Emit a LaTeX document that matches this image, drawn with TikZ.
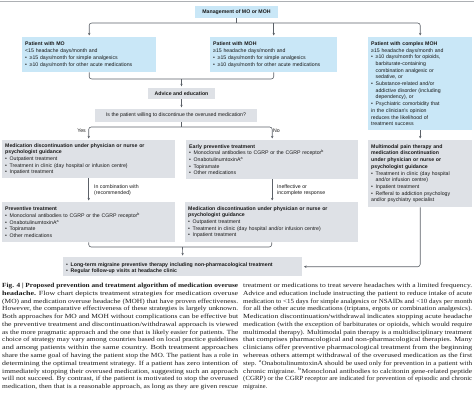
\documentclass[tikz,border=0pt]{standalone}
\usepackage{fontspec}
\usepackage{graphicx}
\setmainfont{Liberation Serif}
\setsansfont{Liberation Sans}
\usetikzlibrary{arrows.meta}
\definecolor{boxblue}{HTML}{C9E7F7}
\definecolor{boxgrey}{HTML}{DEE1E6}
\definecolor{linegrey}{HTML}{5C6168}
\newcommand{\bulitem}{\par\hangindent=4.5pt\hangafter=1\noindent\hbox to 4.5pt{•\hfil}}
\newcommand{\capl}[3]{\node[captxt] (#1) at (2,#2) {\resizebox{236pt}{\height}{#3}};}
\newcommand{\capr}[3]{\node[captxt] (#1) at (243,#2) {\resizebox{229pt}{\height}{#3}};}
\tikzset{
  base/.style={font=\sffamily\fontsize{5.2}{6.7}\selectfont, inner xsep=3pt, inner ysep=2pt, align=left, anchor=north west, text=black!90},
  bbox/.style={base, fill=boxblue},
  gbox/.style={base, fill=boxgrey},
  conn/.style={draw=linegrey, line width=0.6pt, rounded corners=2.5pt},
  arr/.style={conn, -{Stealth[length=2.6pt,width=2.4pt]}, shorten >=1.5pt},
  lbl/.style={font=\sffamily\fontsize{5.2}{6.7}\selectfont, align=left, inner sep=0pt, text=black!90},
  captxt/.style={font=\fontsize{6.3}{8}\selectfont, anchor=base west, inner sep=0pt, text=black!90},
}
\begin{document}
\begin{tikzpicture}[x=1pt,y=-1pt]
\useasboundingbox (0,0) rectangle (474,413);
\draw[linegrey!50, line width=0.6pt] (0,1) -- (474,1);

% top
\node[bbox, anchor=center, align=center, minimum width=83pt, minimum height=12pt, font=\sffamily\bfseries\fontsize{5.2}{6.7}\selectfont] (mgmt) at (236.5,12) {Management of MO or MOH};

\node[bbox, text width=128pt, minimum height=35pt] (mo) at (22,37) {\textbf{Patient with MO}\par <15 headache days/month and\bulitem ≥15 days/month for simple analgesics\bulitem ≥10 days/month for other acute medications};

\node[bbox, text width=121pt, minimum height=35pt] (moh) at (210,37) {\textbf{Patient with MOH}\par ≥15 headache days/month and\bulitem ≥15 days/month for simple analgesics\bulitem ≥10 days/month for other acute medications};

\node[bbox, text width=98pt, minimum height=93pt] (cmoh) at (368,37) {\textbf{Patient with complex MOH}\par ≥15 headache days/month and\bulitem ≥10 days/month for opioids,\newline barbiturate-containing\newline combination analgesic or\newline sedative, or\bulitem Substance-related and/or\newline addictive disorder (including\newline dependency), or\bulitem Psychiatric comorbidity that\newline in\ the clinician's opinion\newline reduces the likelihood of\newline treatment success};

\node[gbox, anchor=center, align=center, minimum width=67pt, minimum height=11pt, font=\sffamily\bfseries\fontsize{5.2}{6.7}\selectfont] (advice) at (181.5,93.5) {Advice and education};

\node[gbox, anchor=center, align=center, minimum width=162pt, minimum height=13pt] (question) at (176,115.5) {Is the patient willing to discontinue the overused medication?};

\node[gbox, text width=167pt, minimum height=38pt] (disc1) at (2,140) {\textbf{Medication discontinuation under physician or nurse or\newline psychologist guidance}\bulitem Outpatient treatment\bulitem Treatment in clinic (day hospital or infusion centre)\bulitem Inpatient treatment};

\node[gbox, text width=166pt, minimum height=39pt] (early) at (186,140) {\textbf{Early preventive treatment}\bulitem Monoclonal antibodies to CGRP or the CGRP receptor\textsuperscript{b}\bulitem OnabotulinumtoxinA\textsuperscript{a}\bulitem Topiramate\bulitem Other medications};

\node[gbox, text width=98pt, minimum height=67pt] (mm) at (368,140) {\textbf{Multimodal pain therapy and\newline medication discontinuation\newline under physician or nurse or\newline psychologist guidance}\bulitem Treatment in clinic (day hospital\newline and/or infusion centre)\bulitem Inpatient treatment\bulitem Refferal to addiction psychology\newline and/or psychiatry specialist};

\node[gbox, text width=167pt, minimum height=40pt] (prev) at (2,202) {\textbf{Preventive treatment}\bulitem Monoclonal antibodies to CGRP or the CGRP receptor\textsuperscript{b}\bulitem OnabotulinumtoxinA\textsuperscript{a}\bulitem Topiramate\bulitem Other medications};

\node[gbox, text width=167pt, minimum height=40pt] (disc2) at (185,202) {\textbf{Medication discontinuation under physician or nurse or\newline psychologist guidance}\bulitem Outpatient treatment\bulitem Treatment in clinic (day hospital and/or infusion centre)\bulitem Inpatient treatment};

\node[gbox, text width=233pt, minimum height=19pt] (final) at (63,257) {\bulitem\textbf{Long-term migraine preventive therapy including non-pharmacological treatment}\bulitem\textbf{Regular follow-up visits at headache clinic}};

% labels
\node[lbl, anchor=east] (yes) at (86,131) {Yes};
\node[lbl, anchor=west] (no) at (273,131) {No};
\node[lbl, anchor=west] (comb) at (94,190) {In combination with\\(recommended)};
\node[lbl, anchor=west] (ineff) at (277,190) {Ineffective or\\incomplete response};

% connectors
\coordinate (bus) at (236.5,23);
\draw[conn] (mgmt.south) -- (bus);
\draw[arr] (bus) -| (mo.north);
\draw[arr] (bus) -| (cmoh.north);
\draw[arr] (bus -| moh.north) -- (moh.north);

\coordinate (m1) at (181.5,79);
\draw[conn] (mo.south) |- (m1) -| (moh.south);
\draw[arr] (m1) -- (advice.north);
\draw[arr] (advice.south) -- (advice.south |- question.north);

\coordinate (q1) at (181.5,127);
\draw[conn] (q1 |- question.south) -- (q1);
\draw[arr] (q1) -| (disc1.north);
\draw[arr] (q1) -| (early.north);

\draw[arr] (disc1.south) -- (prev.north);
\draw[arr] (early.south) -- (early.south |- disc2.north);

\coordinate (m2) at (182.5,247);
\draw[conn] (prev.south) |- (m2) -| (disc2.south);
\draw[arr] (m2) -- (final.north);

\draw[arr] (cmoh.south) -- (mm.north);
\draw[arr] (mm.south) |- (final.east);

% caption
\capl{c1}{287.5}{\textbf{Fig. 4 | Proposed prevention and treatment algorithm of medication overuse}}
\capl{c2}{295.3}{\textbf{headache.} Flow chart depicts treatment strategies for medication overuse}
\capl{c3}{303.0}{(MO) and medication overuse headache (MOH) that have proven effectiveness.}
\capl{c4}{310.8}{However, the comparative effectiveness of these strategies is largely unknown.}
\capl{c5}{318.6}{Both approaches for MO and MOH without complications can be effective but}
\capl{c6}{326.4}{the preventive treatment and discontinuation/withdrawal approach is viewed}
\capl{c7}{334.1}{as the more pragmatic approach and the one that is likely easier for patients. The}
\capl{c8}{341.9}{choice of strategy may vary among countries based on local practice guidelines}
\capl{c9}{349.7}{and among patients within the same country. Both treatment approaches}
\capl{c10}{357.4}{share the same goal of having the patient stop the MO. The patient has a role in}
\capl{c11}{365.2}{determining the optimal treatment strategy. If a patient has zero intention of}
\capl{c12}{373.0}{immediately stopping their overused medication, suggesting such an approach}
\capl{c13}{380.7}{will not succeed. By contrast, if the patient is motivated to stop the overused}
\capl{c14}{388.5}{medication, then that is a reasonable approach, as long as they are given rescue}

\capr{d1}{287.5}{treatment or medications to treat severe headaches with a limited frequency.}
\capr{d2}{295.3}{Advice and education include instructing the patient to reduce intake of acute}
\capr{d3}{303.0}{medication to <15 days for simple analgesics or NSAIDs and <10 days per month}
\capr{d4}{310.8}{for all the other acute medications (triptans, ergots or combination analgesics).}
\capr{d5}{318.6}{Medication discontinuation/withdrawal indicates stopping acute headache}
\capr{d6}{326.4}{medication (with the exception of barbiturates or opioids, which would require}
\capr{d7}{334.1}{multimodal therapy). Multimodal pain therapy is a multidisciplinary treatment}
\capr{d8}{341.9}{that comprises pharmacological and non-pharmacological therapies. Many}
\capr{d9}{349.7}{clinicians offer preventive pharmacological treatment from the beginning}
\capr{d10}{357.4}{whereas others attempt withdrawal of the overused medication as the first}
\capr{d11}{365.2}{step. \textsuperscript{a}OnabotulinumtoxinA should be used only for prevention in a patient with}
\capr{d12}{373.0}{chronic migraine. \textsuperscript{b}Monoclonal antibodies to calcitonin gene-related peptide}
\capr{d13}{380.7}{(CGRP) or the CGRP receptor are indicated for prevention of episodic and chronic}
\node[captxt] (d14) at (243,388.5) {migraine.};
\end{tikzpicture}
\end{document}
